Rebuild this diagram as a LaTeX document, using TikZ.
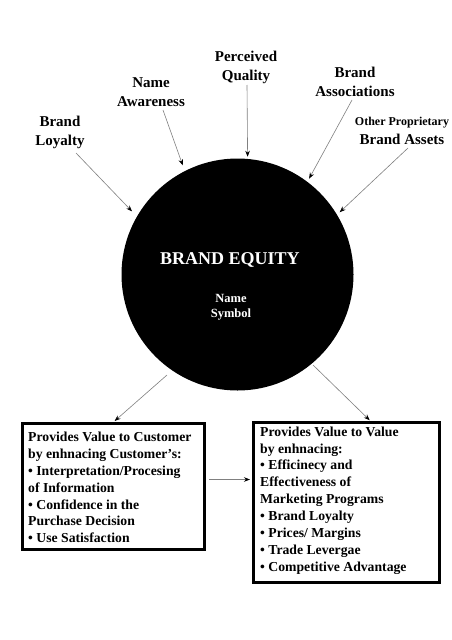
\documentclass[tikz,border=0pt]{standalone}
\usepackage{fontspec}
\setmainfont{Liberation Serif}
\usetikzlibrary{arrows.meta,calc}
\begin{document}
\begin{tikzpicture}[x=1pt,y=-1pt,
  lbl/.style={font=\fontsize{15}{19}\selectfont\bfseries, align=center, inner sep=0pt},
  arr/.style={draw=black!50, line width=0.6pt, -{Stealth[color=black,length=6pt,width=4.5pt]}},
  valbox/.style={draw=black, line width=3pt, fill=white, align=left, anchor=north west,
    font=\fontsize{13.7}{16.9}\selectfont\bfseries, inner sep=0pt}
]
\useasboundingbox[fill=white] (0,0) rectangle (452,640);

% circle
\node[circle, fill=black, minimum size=232pt, inner sep=0pt] (eq) at (237.5,274.5) {};
\node[text=white, font=\fontsize{18}{20}\selectfont\bfseries, inner sep=0pt] (title) at (230,260) {BRAND EQUITY};
\node[text=white, font=\fontsize{12.5}{15}\selectfont\bfseries, align=center, inner sep=0pt] (ns) at (231,307.5) {Name\\Symbol};

% top labels
\node[lbl] (bl) at (60,132.5) {Brand\\Loyalty};
\node[lbl] (na) at (151,92.5) {Name\\Awareness};
\node[lbl] (pq) at (246,67.5) {Perceived\\Quality};
\node[lbl] (ba) at (355,81.5) {Brand\\Associations};
\node[lbl] (op) at (402,131) {{\fontsize{12}{19}\selectfont Other Proprietary}\\Brand Assets};

\coordinate (s1) at (76,153);
\coordinate (s2) at (163,110);
\coordinate (s3) at (247,85);
\coordinate (s4) at (352,100);
\coordinate (s5) at (408,148);

\draw[arr, shorten >=7pt] (s1) -- (eq.150.2);
\draw[arr, shorten >=6pt] (s2) -- (eq.117.5);
\draw[arr, shorten >=2pt] (s3) -- (eq.85.4);
\draw[arr, shorten >=3.5pt] (s4) -- (eq.53.8);
\draw[arr, shorten >=3.5pt] (s5) -- (eq.31);

% boxes
\node[draw=black, line width=3pt, minimum width=182pt, minimum height=126pt, inner sep=0pt, anchor=north west] (lbox) at (21,422) {};
\node[draw=black, line width=3pt, minimum width=186pt, minimum height=160pt, inner sep=0pt, anchor=north west] (rbox) at (252,421) {};

\node[font=\fontsize{13.7}{16.9}\selectfont\bfseries, align=left, inner sep=0pt, anchor=west] (ltxt) at (28,487.5)
{Provides Value to Customer\\
by enhnacing Customer’s:\\
• Interpretation/Procesing\\
of Information\\
• Confidence in the\\
Purchase Decision\\
• Use Satisfaction};

\node[font=\fontsize{13.7}{16.9}\selectfont\bfseries, align=left, inner sep=0pt, anchor=west] (rtxt) at (260,500.5)
{Provides Value to Value\\
by enhnacing:\\
• Efficinecy and\\
Effectiveness of\\
Marketing Programs\\
• Brand Loyalty\\
• Prices/ Margins\\
• Trade Levergae\\
• Competitive Advantage};

% bottom arrows
\coordinate (b1) at (167,375);
\coordinate (b2) at (313,365);
\draw[arr, shorten >=1.5pt] (b1) -- (lbox.north);
\draw[arr, shorten >=2.5pt] (b2) -- ([xshift=25pt]lbox.north -| rbox.north);
\coordinate (h) at ([yshift=7pt]lbox.east);
\draw[arr, shorten <=3pt, shorten >=2pt] (h) -- (h -| rbox.west);
\end{tikzpicture}
\end{document}
